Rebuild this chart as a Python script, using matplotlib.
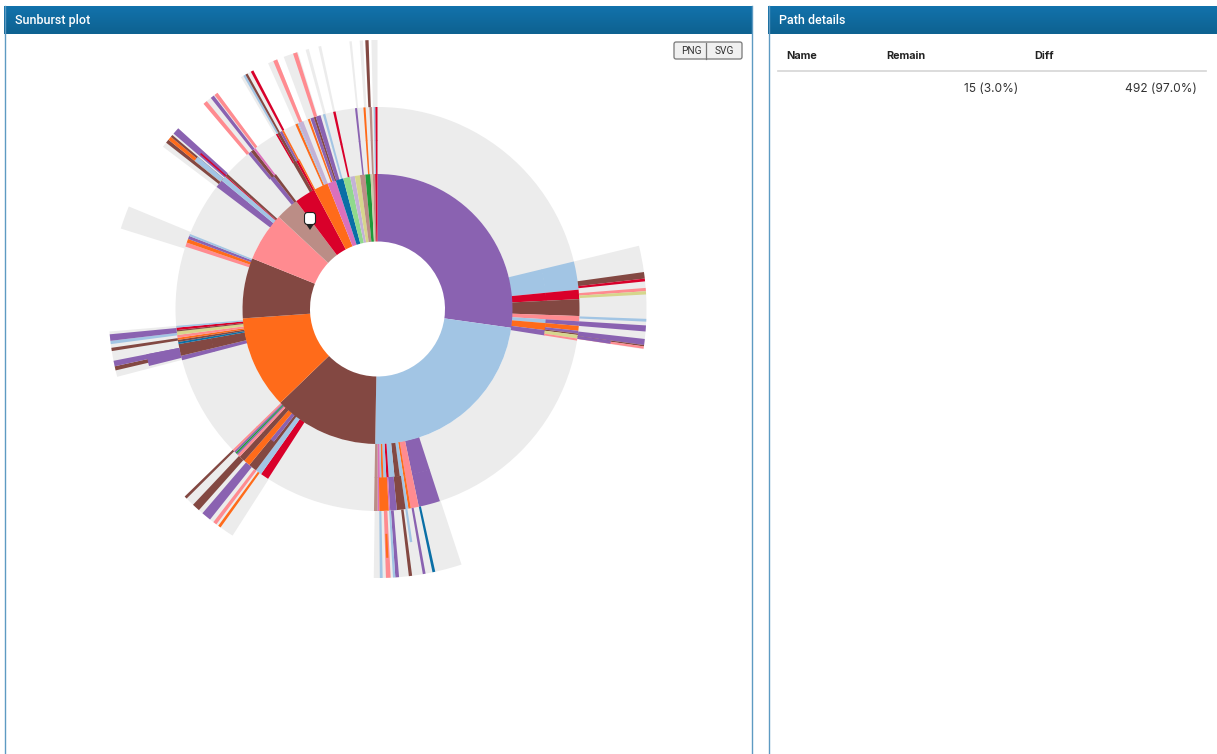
import numpy as np
import matplotlib
matplotlib.use('Agg')
import matplotlib.pyplot as plt
from matplotlib.patches import FancyBboxPatch, Polygon

plt.rcParams['font.family'] = ['Roboto', 'DejaVu Sans']

W, H = 1217, 754

palette = {
    'gap': 'none', 'gray': '#ececec', 'purple': '#8a62b1', 'lb': '#a2c5e4',
    'brown': '#834842', 'orange': '#ff6b1a', 'pink': '#ff8b90', 'taupe': '#bb8d86',
    'red': '#d9002a', 'magenta': '#db70bc', 'teal': '#0a6fa6', 'lgreen': '#90d98c',
    'lav': '#c3b2d6', 'olive': '#d6d68c', 'green': '#1d9a3a', 'pale': '#cfc9a8',
}

# every ring runs clockwise from 12 o'clock, sizes in degrees
ring0_sizes = [98, 83, 45, 40, 26, 21, 10, 9, 6.3, 3.7, 3.3, 3, 2, 2.2, 2.3, 2.2, 1, 1, 1]
ring0_colors = ['purple', 'lb', 'brown', 'orange', 'brown', 'pink', 'taupe', 'red', 'orange', 'magenta',
                'teal', 'lgreen', 'lav', 'olive', 'taupe', 'green', 'pale', 'taupe', 'red']

ring1_sizes = [76.4, 8.1, 2.7, 4.8, 1.5, 1.3, 2.4, 1.8,
               63, 6.2, 2.3, .7, 1.2, 1.8, 2, .8, 1, .7, .5, .8, 1,
               31.8, 2.4, 1.8, 1, 1.4, 1.9, 1.7, .8, .4, .5, .5, .6,
               29.5, 1.3, 3.4, .6, .6, .6, .8, 1, .4, .7, .5,
               22.8, 1.2, 1.1, .9, .6,
               15.4, 2.3, 1.5, .3, .7,
               8.5, 1.5, 1,
               6.9, 1.3, .8, .5,
               3.5, .7, .3, 1.4, 1.4, .6, .2, 1, .6, 1.4, .7, .7, 2.3, .7, 5.6, .6, 1.8, .6, 1.1, .7, .5, .5, .6]
ring1_colors = ['gap', 'lb', 'red', 'brown', 'pink', 'lb', 'orange', 'purple',
                'gap', 'purple', 'pink', 'orange', 'lb', 'brown', 'lb', 'red', 'lb', 'orange', 'lb', 'magenta', 'taupe',
                'gap', 'red', 'lb', 'brown', 'purple', 'orange', 'brown', 'pink', 'purple', 'green', 'purple', 'pink',
                'gap', 'purple', 'brown', 'teal', 'brown', 'orange', 'pink', 'olive', 'brown', 'red', 'lb',
                'gap', 'pink', 'orange', 'purple', 'lb',
                'gap', 'purple', 'lb', 'red', 'brown',
                'gap', 'purple', 'brown',
                'gap', 'brown', 'red', 'orange',
                'gap', 'orange', 'lb', 'lav', 'gap', 'orange', 'gap', 'purple', 'brown', 'purple', 'gap', 'lb', 'gap',
                'red', 'gap', 'purple', 'gap', 'orange', 'gap', 'taupe', 'gap', 'lb', 'red']

ring2_sizes = [76.4, 8.1, 2.7, 4.8, 1.5, 1.3, 1.4, .8, .4, 1, .6,
               63, 6.2, 2.3, .7, .8, 2.5, 1.9, .4, 2.7, .5, 1,
               31.8, 2.4, 1.8, 2.4, 1.9, 1.7, .8, .4, .5, .5, .6,
               29.5, 1.3, 3.4, .6, .6, .6, .8, 1, .4, .7, .5,
               22.8, 1.2, 1.1, .9, .6,
               15.4, 2.3, 1.5, .3, .7,
               8.2, 1, 1, .6,
               7, .5, .8, .7, .5,
               3.7, .7, .3, 1.4, 1.4, .6, .2, 1, .6, 1.4, .7, .7, 2.3, .7, 5.6, .6, 1.8, .6, 1.1, .7, .5, .5, .6]
ring2_colors = ['gap', 'lb', 'red', 'brown', 'pink', 'purple', 'orange', 'purple', 'brown', 'olive', 'pink',
                'gap', 'purple', 'pink', 'orange', 'lb', 'brown', 'purple', 'magenta', 'orange', 'magenta', 'taupe',
                'gap', 'red', 'lb', 'brown', 'orange', 'brown', 'pink', 'purple', 'green', 'purple', 'pink',
                'gap', 'purple', 'brown', 'teal', 'brown', 'orange', 'pink', 'olive', 'brown', 'red', 'lb',
                'gap', 'pink', 'orange', 'purple', 'lb',
                'gap', 'purple', 'lb', 'red', 'brown',
                'gap', 'purple', 'brown', 'magenta',
                'gap', 'red', 'brown', 'purple', 'orange',
                'gap', 'orange', 'lb', 'lav', 'gap', 'orange', 'gap', 'purple', 'brown', 'purple', 'gap', 'lb', 'gap',
                'red', 'gap', 'purple', 'gap', 'orange', 'gap', 'taupe', 'gap', 'lb', 'red']

outer_gray_sizes = [76.4, 22.2, 63.2, 19, 31.8, 13.1, 29.7, 9.8, 22.2, 5, 14.7, 5.1, 7.6, 3.6, 6.1, 3, 3.5, 2.1,
                    1.5, 3.2, 1.7, .7, 2.1, .6, 6.1, .5, 1.7, .7, .4, .7, .7, 1.3]

outer_sizes = [82.1, 1.4, .6, 1.4, .7, .7, 5.2, .6, .8, 1.3, 1.6, 1.3, .3, .5,
               69.1, .6, 1.5, .6, 2.3, .7, 2.1, .8, .5, .5, 1, .7, .6,
               36.2, .6, .5, .8, .9, 2.1, 1, 1.7, 1.9, .6,
               31, .9, 1.2, 2.1, .7, .8, .7, 1.4,
               43.6, .8, .8, .5, .4, 1.5,
               7.5, .9, 1.1, .8, .2, .8,
               6.6, .5, .5, .8, .6, 4.7, .9, 3.6, .9, 14.8, .7]
outer_colors = ['gap', 'brown', 'red', 'gap', 'pink', 'olive', 'gap', 'lb', 'gap', 'purple', 'gap', 'purple', 'brown', 'pink',
                'gap', 'teal', 'gap', 'purple', 'gap', 'brown', 'gap', 'purple', 'lb', 'gap', 'pink', 'gap', 'lb',
                'gap', 'orange', 'gap', 'pink', 'gap', 'purple', 'gap', 'brown', 'gap', 'brown',
                'gap', 'brown', 'purple', 'gap', 'brown', 'gap', 'lb', 'purple',
                'gap', 'brown', 'orange', 'brown', 'gap', 'purple',
                'gap', 'pink', 'gap', 'purple', 'gap', 'pink',
                'gap', 'lb', 'brown', 'gap', 'red', 'gap', 'pink', 'gap', 'pink', 'gap', 'brown']

ring3_sizes = [97.7, .8, 73, .6, 83.9, 2.9, 50.1, 1.3, .8, .4]
ring3_colors = ['gap', 'purple', 'gap', 'lb', 'gap', 'purple', 'gap', 'lb', 'gap', 'red']

stripe_sizes = [177.5, .5]
stripe_colors = ['gap', 'orange']

table_header = ['Name', 'Remain', 'Diff']
remain_text = '15 (3.0%)'
diff_text = '492 (97.0%)'


def ring(ax, sizes, colors, r_in, r_out):
    sizes = list(sizes) + [max(360 - sum(sizes), 0)]
    cols = [palette[c] for c in colors] + ['none']
    ax.pie(sizes, colors=cols, radius=r_out, startangle=90, counterclock=False,
           wedgeprops=dict(width=r_out - r_in, linewidth=0))


fig = plt.figure(figsize=(W / 100, H / 100), dpi=100)

# page furniture in pixel coords
bg = fig.add_axes([0, 0, 1, 1])
bg.axis('off')

grad = np.linspace(0, 1, 28).reshape(-1, 1)
cmap = matplotlib.colors.LinearSegmentedColormap.from_list('hdr', ['#1272ab', '#0e6291'])
for x0, x1, title in [(4, 752, 'Sunburst plot'), (768, 1217, 'Path details')]:
    bg.imshow(grad, extent=(x0, x1, 34.5, 6.5), cmap=cmap, aspect='auto', zorder=1)
    bg.plot([x0 + .5, x0 + .5], [6, H], color='#5d9ac2', lw=1, zorder=2)
    if x1 < W:
        bg.plot([x1 - .5, x1 - .5], [6, H], color='#5d9ac2', lw=1, zorder=2)
    bg.text(x0 + 11, 20.5, title, color='white', fontsize=9, fontweight='medium', va='center', zorder=3)
bg.set_xlim(0, W)
bg.set_ylim(H, 0)

# PNG / SVG buttons
bg.add_patch(FancyBboxPatch((674, 42), 68, 17, boxstyle='round,pad=0,rounding_size=2',
                            fc='#f0f0f0', ec='#777777', lw=.9, zorder=2))
bg.plot([706, 706], [43, 58.5], color='#777777', lw=.9, zorder=3)
bg.text(691, 50.7, 'PNG', fontsize=7.3, ha='center', va='center', color='#333333', zorder=3)
bg.text(724, 50.7, 'SVG', fontsize=7.3, ha='center', va='center', color='#333333', zorder=3)

# table
for x, name in zip([786, 886, 1034], table_header):
    bg.text(x, 56, name, family=['Inter', 'DejaVu Sans'], fontsize=7.8, fontweight='bold', va='center', color='#222222')
bg.plot([778, 1206], [71, 71], color='#d5d5d5', lw=1.2)
bg.text(1018, 89, remain_text, family=['Inter', 'DejaVu Sans'], fontsize=8.6, ha='right', va='center', color='#333333')
bg.text(1197, 89, diff_text, family=['Inter', 'DejaVu Sans'], fontsize=8.6, ha='right', va='center', color='#333333')

# sunburst
cx, cy, rmax = 377.5, 309, 272
ax = fig.add_axes([(cx - rmax) / W, 1 - (cy + rmax) / H, 2 * rmax / W, 2 * rmax / H], zorder=2)
ax.patch.set_alpha(0)
ring(ax, [360], ['gray'], 135, 202)
ring(ax, outer_gray_sizes, ['gap', 'gray'] * (len(outer_gray_sizes) // 2), 201.5, 269)
ring(ax, ring1_sizes, ring1_colors, 134.5, 169)
ring(ax, ring2_sizes, ring2_colors, 168.5, 202)
ring(ax, ring0_sizes, ring0_colors, 67.5, 135)
ring(ax, outer_sizes, outer_colors, 202, 269)
ring(ax, ring3_sizes, ring3_colors, 202, 235.5)
ring(ax, stripe_sizes, stripe_colors, 225, 249)
ax.set_xlim(-rmax, rmax)
ax.set_ylim(-rmax, rmax)
ax.axis('off')

# hover pin
top = fig.add_axes([0, 0, 1, 1], zorder=3)
top.set_xlim(0, W)
top.set_ylim(H, 0)
top.axis('off')
top.add_patch(Polygon([[306, 224], [314, 224], [310, 230]], fc='#222222', ec='none'))
top.add_patch(FancyBboxPatch((304.5, 212.5), 11, 12, boxstyle='round,pad=0,rounding_size=3',
                             fc='white', ec='#222222', lw=.8))

fig.savefig('out.png', dpi=100)
